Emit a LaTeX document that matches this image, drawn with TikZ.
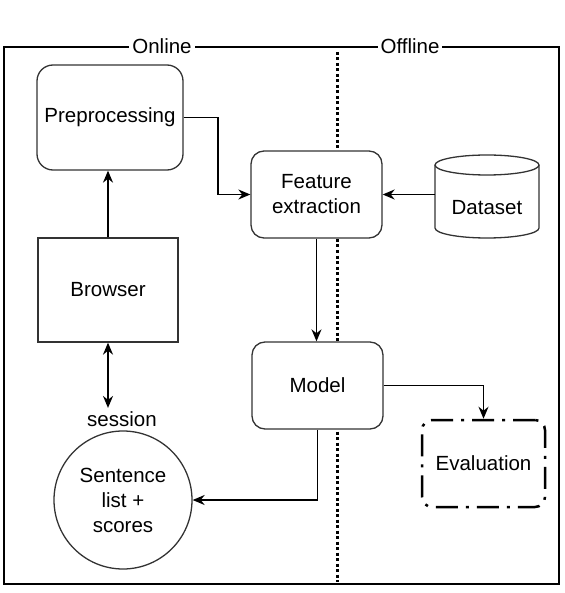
\documentclass[tikz,border=0pt]{standalone}
\usepackage{fontspec}
\setmainfont{Liberation Sans}
\usetikzlibrary{arrows.meta}

\tikzset{
    txt/.style={font=\fontsize{20.5}{25}\selectfont, align=center},
    box/.style={txt, draw=black!80, fill=white, line width=1.3pt, rounded corners=13pt,
        minimum width=131pt, minimum height=87pt},
    link/.style={line width=1.4pt, -{Stealth[length=12pt, width=10pt]}}
}

\begin{document}
\begin{tikzpicture}[x=1pt, y=-1pt]
    \useasboundingbox (0, 0) rectangle (564, 593);

    % Outer frame and the online/offline split
    \draw[line width=1.6pt] (4, 47) rectangle (559, 584);
    \draw[line width=3pt, dash pattern=on 3pt off 2.5pt] (337, 52) -- (337, 582);
    \node[txt, fill=white, inner sep=3pt] (online) at (162, 46) {Online};
    \node[txt, fill=white, inner sep=3pt] (offline) at (410, 46) {Offline};

    % Boxes
    \node[box, rounded corners=16pt, minimum width=146pt, minimum height=105pt] (prep) at (110, 117.5) {Preprocessing};
    \node[box, rounded corners=0pt, minimum width=140pt, minimum height=104pt] (brow) at (108, 290) {Browser};
    \node[box] (feat) at (316.5, 194.5) {Feature\\extraction};
    \node[box] (model) at (317.5, 385.5) {Model};
    \node[box, draw=black, line width=2.5pt, rounded corners=10pt, minimum width=123pt,
        dash pattern=on 22pt off 8pt on 3pt off 8pt] (eval) at (483.5, 463.5) {Evaluation};

    % Dataset cylinder
    \draw[line width=1.3pt, draw=black!80, fill=white] (435, 165) -- (435, 228)
        arc[start angle=180, end angle=360, x radius=52pt, y radius=10pt] -- (539, 165);
    \draw[line width=1.3pt, draw=black!80, fill=white] (487, 165) ellipse [x radius=52pt, y radius=10pt];
    \node[txt] (data) at (487, 208) {Dataset};
    \coordinate (dataw) at (435, 194.5);

    % Sentence list
    \node[txt] (sess) at (122, 419) {session};
    \node[txt, circle, draw=black!80, line width=1.3pt, minimum size=138pt] (sent) at (123, 500) {Sentence\\list +\\scores};

    % Connectors
    \draw[link] (prep.east) -| (218, 194.5) -- (feat.west);
    \draw[link] (dataw) -- (feat.east);
    \draw[link] (brow.north) -- (brow.north |- prep.south);
    \draw[link] (feat.south) -- (feat.south |- model.north);
    \draw[link] (model.east) -| (eval.north);
    \draw[link] (model.south) |- (sent.east);
    \draw[line width=1.4pt, {Stealth[length=12pt, width=10pt]}-{Stealth[length=12pt, width=10pt]}]
        (brow.south) -- (brow.south |- sess.north);
\end{tikzpicture}
\end{document}
